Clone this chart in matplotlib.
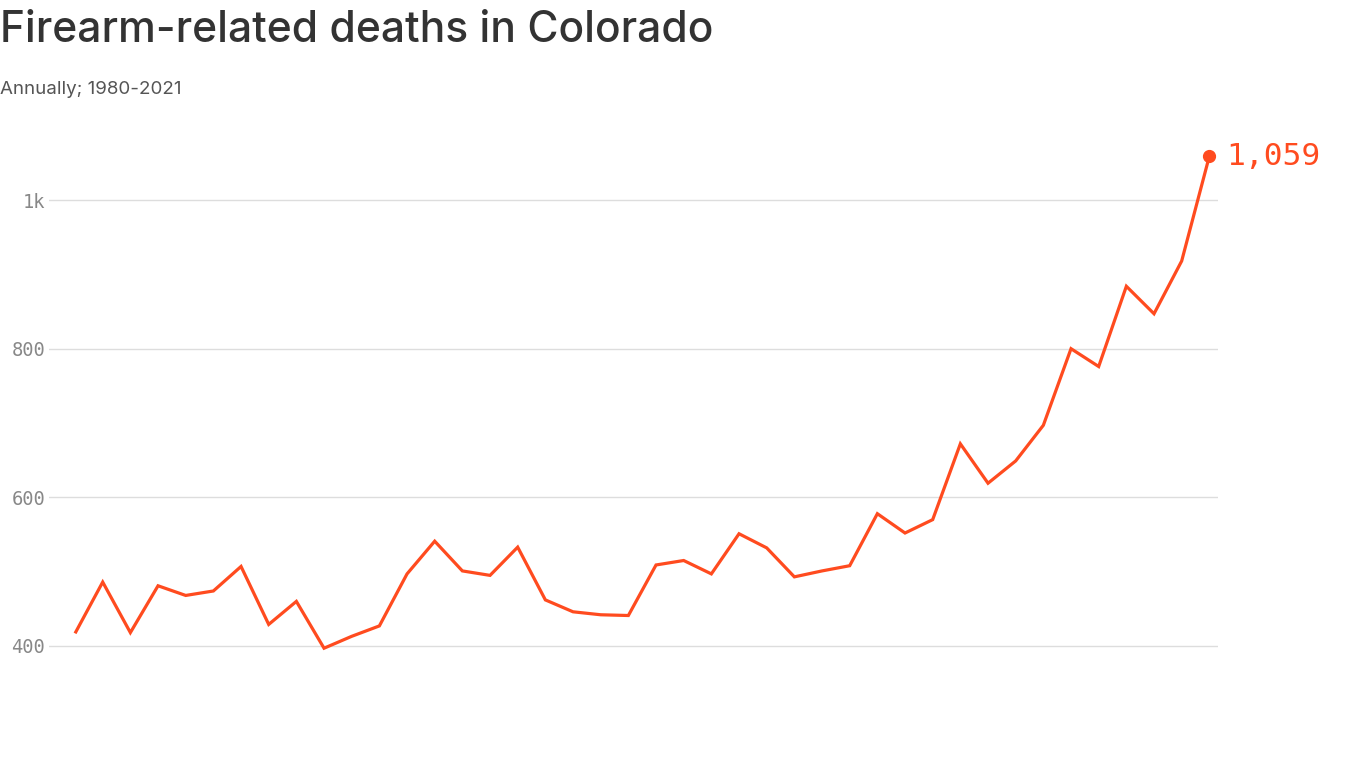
import matplotlib
matplotlib.use("Agg")
import matplotlib.pyplot as plt
from matplotlib.ticker import FixedLocator, FixedFormatter

years = list(range(1980, 2022))
deaths = [417, 486, 418, 481, 468, 474, 507, 429, 460, 397,
          413, 427, 497, 541, 501, 495, 533, 462, 446, 442,
          441, 509, 515, 497, 551, 532, 493, 501, 508, 578,
          552, 570, 672, 619, 649, 697, 800, 776, 884, 847,
          918, 1059]
ytick_vals = [400, 600, 800, 1000]
ytick_labels = ["400", "600", "800", "1k"]

title = "Firearm-related deaths in Colorado"
subtitle = "Annually; 1980-2021"
line_color = "#FF4B1F"

fig = plt.figure(figsize=(13.66, 7.68), dpi=100)
fig.patch.set_facecolor("white")
ax = fig.add_axes([0.0361, 0.0621, 0.8553, 0.7742])
ax.set_facecolor("white")

ax.plot(years, deaths, color=line_color, linewidth=2.3, solid_joinstyle="miter",
        solid_capstyle="butt", zorder=3, clip_on=False)
ax.plot([years[-1]], [deaths[-1]], "o", color=line_color, markersize=8.5, zorder=4,
        clip_on=False)
ax.annotate(f"{deaths[-1]:,}", xy=(years[-1], deaths[-1]), xytext=(12, 0),
            textcoords="offset points", ha="left", va="center",
            color=line_color, fontsize=22.5, family="DejaVu Sans Mono",
            annotation_clip=False)

ax.set_xlim(1979.07, 2021.30)
ax.set_ylim(300, 1100)
ax.yaxis.set_major_locator(FixedLocator(ytick_vals))
ax.yaxis.set_major_formatter(FixedFormatter(ytick_labels))
ax.set_xticks([])
ax.grid(axis="y", color="#dddddd", linewidth=1.0, zorder=0)
for s in ax.spines.values():
    s.set_visible(False)
ax.tick_params(axis="y", length=0, pad=3, labelsize=13.5, labelcolor="#888888")
for lbl in ax.get_yticklabels():
    lbl.set_family("DejaVu Sans Mono")

fig.text(0.0, 1 - 31 / 768, title, ha="left", va="center", fontsize=30.6,
         color="#333333", family="Inter", fontweight="medium")
fig.text(0.0, 1 - 90 / 768, subtitle, ha="left", va="center", fontsize=13.5,
         color="#555555", family="Inter")

fig.savefig("out.png", dpi=100, facecolor="white")
